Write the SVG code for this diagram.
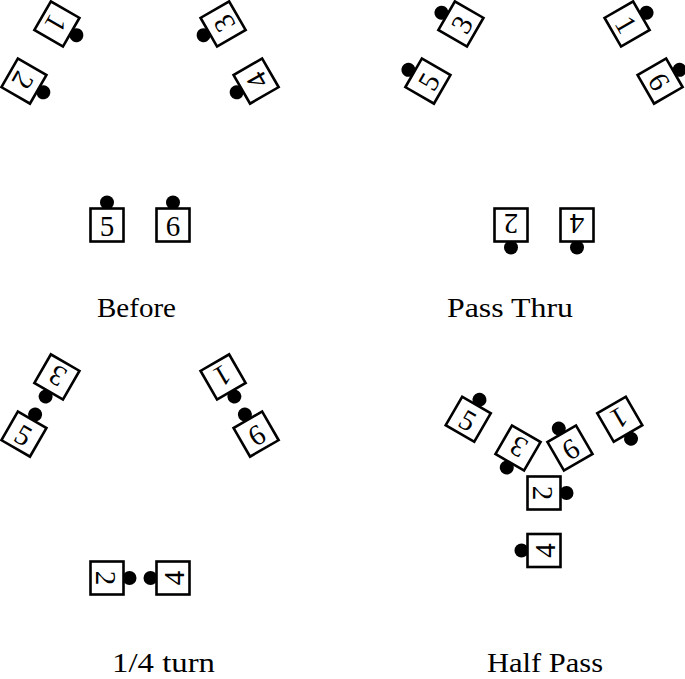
<svg xmlns="http://www.w3.org/2000/svg" width="685" height="679" viewBox="0 0 685 679">
<style>
.box{fill:#fff;stroke:#000;stroke-width:2.6}
.nose{fill:#000}
.num{font-family:"Liberation Serif","DejaVu Serif",serif;font-size:29px;text-anchor:middle;fill:#000}
.lbl{font-family:"Liberation Serif","DejaVu Serif",serif;font-size:28px;fill:#000}
</style>
<defs>
<g id="body">
<circle class="nose" cx="0" cy="-22.5" r="7"/>
<rect class="box" x="-16.5" y="-16.5" width="33" height="33"/>
</g>
</defs>
<g id="before">
<g id="before-1" transform="translate(140,110) rotate(120) translate(-33,115)"><use href="#body"/><text class="num" x="0" y="11">1</text></g>
<g id="before-2" transform="translate(140,110) rotate(120) translate(33,115)"><use href="#body"/><text class="num" x="0" y="11">2</text></g>
<g id="before-3" transform="translate(140,110) rotate(240) translate(33,115)"><use href="#body"/><text class="num" x="0" y="11">3</text></g>
<g id="before-4" transform="translate(140,110) rotate(240) translate(-33,115)"><use href="#body"/><text class="num" x="0" y="11">4</text></g>
<g id="before-5" transform="translate(140,110) translate(-33,115)"><use href="#body"/><text class="num" x="0" y="11">5</text></g>
<g id="before-6" transform="translate(140,110) translate(33,115)"><use href="#body"/><text class="num" x="0" y="11">6</text></g>
<text class="lbl" x="97" y="317" textLength="79" lengthAdjust="spacingAndGlyphs">Before</text>
</g>
<g id="passthru">
<g id="pass-2" transform="translate(544,110) translate(-33,115) rotate(180)"><use href="#body"/><text class="num" x="0" y="11">2</text></g>
<g id="pass-4" transform="translate(544,110) translate(33,115) rotate(180)"><use href="#body"/><text class="num" x="0" y="11">4</text></g>
<g id="pass-3" transform="translate(544,110) rotate(120) translate(-33,115) rotate(180)"><use href="#body"/><text class="num" x="0" y="11">3</text></g>
<g id="pass-5" transform="translate(544,110) rotate(120) translate(33,115) rotate(180)"><use href="#body"/><text class="num" x="0" y="11">5</text></g>
<g id="pass-1" transform="translate(544,110) rotate(240) translate(33,115) rotate(180)"><use href="#body"/><text class="num" x="0" y="11">1</text></g>
<g id="pass-6" transform="translate(544,110) rotate(240) translate(-33,115) rotate(180)"><use href="#body"/><text class="num" x="0" y="11">6</text></g>
<text class="lbl" x="447" y="317" textLength="126" lengthAdjust="spacingAndGlyphs">Pass Thru</text>
</g>
<g id="quarter">
<g id="quarter-2" transform="translate(140,463) translate(-33,115) rotate(90)"><use href="#body"/><text class="num" x="0" y="11">2</text></g>
<g id="quarter-4" transform="translate(140,463) translate(33,115) rotate(-90)"><use href="#body"/><text class="num" x="0" y="11">4</text></g>
<g id="quarter-3" transform="translate(140,463) rotate(120) translate(-33,115) rotate(90)"><use href="#body"/><text class="num" x="0" y="11">3</text></g>
<g id="quarter-5" transform="translate(140,463) rotate(120) translate(33,115) rotate(-90)"><use href="#body"/><text class="num" x="0" y="11">5</text></g>
<g id="quarter-1" transform="translate(140,463) rotate(240) translate(33,115) rotate(-90)"><use href="#body"/><text class="num" x="0" y="11">1</text></g>
<g id="quarter-6" transform="translate(140,463) rotate(240) translate(-33,115) rotate(90)"><use href="#body"/><text class="num" x="0" y="11">6</text></g>
<text class="lbl" x="112" y="672" textLength="103" lengthAdjust="spacingAndGlyphs">1/4 turn</text>
</g>
<g id="halfpass">
<g id="half-2" transform="translate(544,463) translate(0,30) rotate(90)"><use href="#body"/><text class="num" x="0" y="11">2</text></g>
<g id="half-4" transform="translate(544,463) translate(0,87.5) rotate(-90)"><use href="#body"/><text class="num" x="0" y="11">4</text></g>
<g id="half-3" transform="translate(544,463) rotate(120) translate(0,30) rotate(90)"><use href="#body"/><text class="num" x="0" y="11">3</text></g>
<g id="half-5" transform="translate(544,463) rotate(120) translate(0,87.5) rotate(-90)"><use href="#body"/><text class="num" x="0" y="11">5</text></g>
<g id="half-6" transform="translate(544,463) rotate(240) translate(0,30) rotate(90)"><use href="#body"/><text class="num" x="0" y="11">6</text></g>
<g id="half-1" transform="translate(544,463) rotate(240) translate(0,87.5) rotate(-90)"><use href="#body"/><text class="num" x="0" y="11">1</text></g>
<text class="lbl" x="487" y="672" textLength="116" lengthAdjust="spacingAndGlyphs">Half Pass</text>
</g>
</svg>
